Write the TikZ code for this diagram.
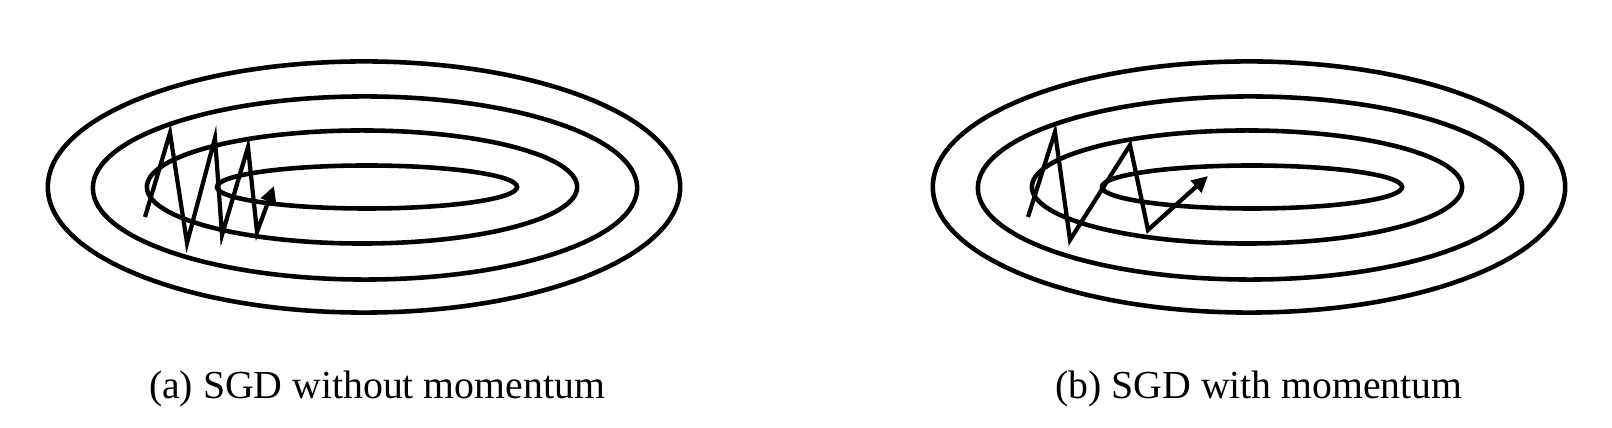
\documentclass[tikz,border=0pt]{standalone}
\usepackage{fontspec}
\setmainfont{Liberation Serif}
\usetikzlibrary{arrows.meta, positioning}

\begin{document}
\begin{tikzpicture}[
x=0.01cm, y=-0.01cm,
contour/.style ={draw, line width=1.3pt},
walk/.style    ={draw, line width=1.2pt, line join=miter, -{Triangle[length=4.6pt, width=4.4pt]}},
caption/.style ={font=\fontsize{11.3}{13.5}\selectfont, anchor=base},
]
\useasboundingbox (0,0) rectangle (1612,428);

% Contours, left panel
\draw[contour] (364,187) ellipse [x radius=3.16cm, y radius=1.255cm];
\draw[contour] (365,188) ellipse [x radius=2.72cm, y radius=0.915cm];
\draw[contour] (362,187) ellipse [x radius=2.15cm, y radius=0.565cm];
\draw[contour] (367,187) ellipse [x radius=1.50cm, y radius=0.215cm];

% Contours, right panel
\draw[contour] (1249,187) ellipse [x radius=3.16cm, y radius=1.255cm];
\draw[contour] (1250,188) ellipse [x radius=2.72cm, y radius=0.915cm];
\draw[contour] (1247,187) ellipse [x radius=2.15cm, y radius=0.565cm];
\draw[contour] (1252,187) ellipse [x radius=1.50cm, y radius=0.215cm];

% Steps
\path[walk] (145,217) -- (170,133) -- (187,243) -- (215,138) -- (222,235)
  -- (248,147) -- (257,232) -- (274,186);
\path[walk] (1028,217) -- (1055,132) -- (1070,240) -- (1130,145)
  -- (1148,230) -- (1208,176);

% Captions
\node[caption] (capa) at (377,399) {(a) SGD without momentum};
\node[caption] (capb) at (1259,399) {(b) SGD with momentum};

\end{tikzpicture}
\end{document}
